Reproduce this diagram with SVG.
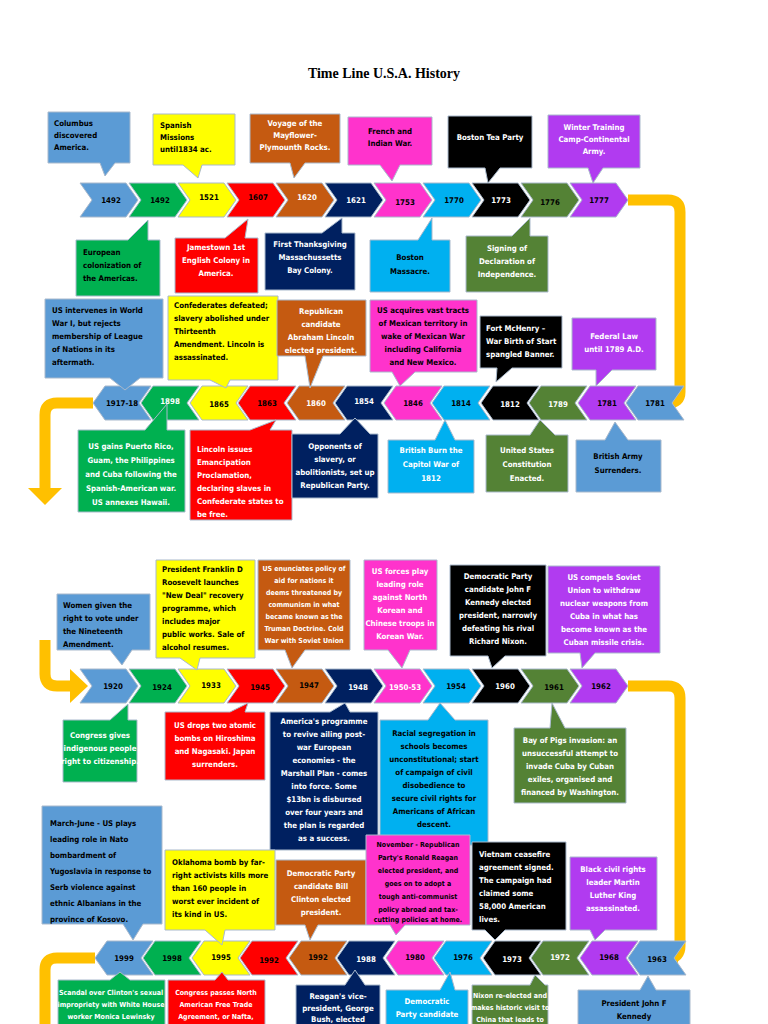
<svg xmlns="http://www.w3.org/2000/svg" width="768" height="1024" viewBox="0 0 768 1024">
<style>
text{font-family:"DejaVu Sans Condensed","Liberation Sans",sans-serif;font-size:7.8px;font-weight:bold;text-anchor:middle}
.t{font-family:"Liberation Serif",serif;font-size:14px}
.s{font-size:7px}
.w{fill:#fff}.k{fill:#000}.l{text-anchor:start}
.bl{fill:#5B9BD5}.gr{fill:#00B050}.ye{fill:#FFFF00}.re{fill:#FF0000}.br{fill:#C55A11}.nv{fill:#002060}.pk{fill:#FF33CC}.cy{fill:#00B0F0}.bk{fill:#000}.ol{fill:#548235}.pu{fill:#B13BF0}
.c{stroke:#A9B9CC;stroke-width:1}
.ar{fill:none;stroke:#FFC000;stroke-width:11}
</style>
<rect width="768" height="1024" fill="#fff"/>
<text class="t" x="384" y="78">Time Line U.S.A. History</text>
<g id="connectors">
<path class="ar" d="M628,200 H668 Q680,200 680,212 V392 Q680,403 668,403 H660"/><polygon fill="#FFC000" points="645,403 662,386 662,420"/>
<path class="ar" d="M93,403 H57 Q45,403 45,415 V490"/><polygon fill="#FFC000" points="28,488 62,488 45,505"/>
<path class="ar" d="M45,640 V674 Q45,686 57,686 H72"/><polygon fill="#FFC000" points="88,686 70,669 70,703"/>
<path class="ar" d="M628,686 H668 Q680,686 680,698 V946 Q680,958 668,958 H675"/><polygon fill="#FFC000" points="660,958 678,941 678,975"/>
<path class="ar" d="M95,958 H57 Q45,958 45,970 V1024"/>
</g>
<g id="r1">
<g id="n1492a"><path class="bl c" d="M80,183H126L138,200L126,217H80L92,200Z"/><text x="111" y="203">1492</text></g>
<g id="n1492b"><path class="gr c" d="M129,183H175L187,200L175,217H129L141,200Z"/><text x="160" y="203">1492</text></g>
<g id="n1521"><path class="ye c" d="M178,183H224L236,200L224,217H178L190,200Z"/><text x="209" y="200">1521</text></g>
<g id="n1607"><path class="re c" d="M227,183H273L285,200L273,217H227L239,200Z"/><text x="258" y="200">1607</text></g>
<g id="n1620"><path class="br c" d="M276,183H322L334,200L322,217H276L288,200Z"/><text class="w" x="307" y="200">1620</text></g>
<g id="n1621"><path class="nv c" d="M325,183H371L383,200L371,217H325L337,200Z"/><text class="w" x="356" y="203">1621</text></g>
<g id="n1753"><path class="pk c" d="M374,183H420L432,200L420,217H374L386,200Z"/><text x="405" y="205">1753</text></g>
<g id="n1770"><path class="cy c" d="M423,183H469L481,200L469,217H423L435,200Z"/><text x="454" y="203">1770</text></g>
<g id="n1773"><path class="bk c" d="M472,183H518L530,200L518,217H472L484,200Z"/><text class="w" x="501" y="203">1773</text></g>
<g id="n1776"><path class="ol c" d="M521,183H567L579,200L567,217H521L533,200Z"/><text x="550" y="205">1776</text></g>
<g id="n1777"><path class="pu c" d="M570,183H616L628,200L616,217H570L582,200Z"/><text x="599" y="203">1777</text></g>
</g>
<g id="c-columbus"><path class="bl c" d="M48,112H130V163H115L105,176L100,163H48Z"/><text class="l" x="54" y="126">Columbus</text><text class="l" x="54" y="138">discovered</text><text class="l" x="54" y="150">America.</text></g>
<g id="c-spanish"><path class="ye c" d="M153,114H235V165H202L198,178L183,165H153Z"/><text class="l k" x="160" y="128">Spanish</text><text class="l" x="160" y="140">Missions</text><text class="l" x="160" y="152">until1834 ac.</text></g>
<g id="c-voyage"><path class="br c" d="M250,114H340V163H305L294,178L290,163H250Z"/><text class="w" x="295" y="126">Voyage of the</text><text class="w" x="295" y="138">Mayflower-</text><text class="w" x="295" y="150">Plymounth Rocks.</text></g>
<g id="c-french"><path class="pk c" d="M348,117H432V165H400L392,181L380,165H348Z"/><text x="390" y="134">French and</text><text x="390" y="146">Indian War.</text></g>
<g id="c-tea"><path class="bk c" d="M448,116H532V168H500L488,183L485,168H448Z"/><text class="w" x="490" y="140">Boston Tea Party</text></g>
<g id="c-winter"><path class="pu c" d="M548,115H640V168H603L593,183L588,168H548Z"/><text class="w" x="594" y="130">Winter Training</text><text class="w" x="594" y="142">Camp-Continental</text><text class="w" x="594" y="154">Army.</text></g>
<g id="c-european"><path class="gr c" d="M76,240H128L148,220L148,240H160V296H76Z"/><text class="l" x="83" y="255">European</text><text class="l" x="83" y="268">colonization of</text><text class="l" x="83" y="281">the Americas.</text></g>
<g id="c-jamestown"><path class="re c" d="M175,238H225L248,219L245,238H258V293H175Z"/><text class="w" x="216" y="250">Jamestown 1st</text><text class="w" x="216" y="263">English Colony in</text><text class="w" x="216" y="276">America.</text></g>
<g id="c-thanks"><path class="nv c" d="M265,233H322L342,218L342,233H355V290H265Z"/><text class="w" x="310" y="247">First Thanksgiving</text><text class="w" x="310" y="260">Massachussetts</text><text class="w" x="310" y="273">Bay Colony.</text></g>
<g id="c-massacre"><path class="cy c" d="M370,240H418L432,218L432,240H450V292H370Z"/><text x="410" y="260">Boston</text><text x="410" y="274">Massacre.</text></g>
<g id="c-signing"><path class="ol c" d="M466,236H512L530,218L530,236H548V292H466Z"/><text class="w" x="507" y="251">Signing of</text><text class="w" x="507" y="264">Declaration of</text><text class="w" x="507" y="277">Independence.</text></g>
<g id="r2">
<g id="n191718"><path class="bl c" d="M93,403L105,386H151L139,403L151,420H105Z"/><text x="122" y="406">1917-18</text></g>
<g id="n1898"><path class="gr c" d="M141,403L153,386H199L187,403L199,420H153Z"/><text class="w" x="170" y="404">1898</text></g>
<g id="n1865"><path class="ye c" d="M190,403L202,386H248L236,403L248,420H202Z"/><text x="219" y="407">1865</text></g>
<g id="n1863"><path class="re c" d="M238,403L250,386H296L284,403L296,420H250Z"/><text x="267" y="406">1863</text></g>
<g id="n1860"><path class="br c" d="M287,403L299,386H345L333,403L345,420H299Z"/><text class="w" x="316" y="406">1860</text></g>
<g id="n1854"><path class="nv c" d="M335,403L347,386H393L381,403L393,420H347Z"/><text class="w" x="364" y="404">1854</text></g>
<g id="n1846"><path class="pk c" d="M384,403L396,386H442L430,403L442,420H396Z"/><text x="413" y="406">1846</text></g>
<g id="n1814"><path class="cy c" d="M432,403L444,386H490L478,403L490,420H444Z"/><text x="461" y="406">1814</text></g>
<g id="n1812"><path class="bk c" d="M481,403L493,386H539L527,403L539,420H493Z"/><text class="w" x="510" y="407">1812</text></g>
<g id="n1789"><path class="ol c" d="M529,403L541,386H587L575,403L587,420H541Z"/><text class="w" x="558" y="407">1789</text></g>
<g id="n1781a"><path class="pu c" d="M578,403L590,386H636L624,403L636,420H590Z"/><text x="607" y="406">1781</text></g>
<g id="n1781b"><path class="bl c" d="M626,403L638,386H684L672,403L684,420H638Z"/><text x="655" y="406">1781</text></g>
</g>
<g id="c-ww1"><path class="bl c" d="M45,299H163V378H140L125,390L110,378H45Z"/><text class="l" x="52" y="313">US intervenes in World</text><text class="l" x="52" y="326">War I, but rejects</text><text class="l" x="52" y="339">membership of League</text><text class="l" x="52" y="352">of Nations in its</text><text class="l" x="52" y="365">aftermath.</text></g>
<g id="c-confed"><path class="ye c" d="M168,296H278V380H230L226,388L210,380H168Z"/><text class="l" x="174" y="308">Confederates defeated;</text><text class="l" x="174" y="321">slavery abolished under</text><text class="l" x="174" y="334">Thirteenth</text><text class="l" x="174" y="347">Amendment. Lincoln is</text><text class="l" x="174" y="360">assassinated.</text></g>
<g id="c-repub"><path class="br c" d="M277,300H366V356H323L310,388L305,356H277Z"/><text class="w" x="321" y="314">Republican</text><text class="w" x="321" y="327">candidate</text><text class="w" x="321" y="340">Abraham Lincoln</text><text class="w" x="321" y="353">elected president.</text></g>
<g id="c-mexico"><path class="pk c" d="M370,300H477V372H415L400,386L392,372H370Z"/><text x="423" y="313">US acquires vast tracts</text><text x="423" y="326">of Mexican territory in</text><text x="423" y="339">wake of Mexican War</text><text x="423" y="352">including California</text><text x="423" y="365">and New Mexico.</text></g>
<g id="c-mchenry"><path class="bk c" d="M480,316H562V368H512L496,382L497,368H480Z"/><text class="w l" x="486" y="331">Fort McHenry –</text><text class="w l" x="486" y="344">War Birth of Start</text><text class="w l" x="486" y="357">spangled Banner.</text></g>
<g id="c-federal"><path class="pu c" d="M572,318H656V370H612L596,386L596,370H572Z"/><text class="w" x="614" y="339">Federal Law</text><text class="w" x="614" y="352">until 1789 A.D.</text></g>
<g id="c-gains"><path class="gr c" d="M78,430H145L167,404L167,430H185V512H78Z"/><text class="w" x="131" y="449">US gains Puerto Rico,</text><text class="w" x="131" y="463">Guam, the Philippines</text><text class="w" x="131" y="477">and Cuba following the</text><text class="w" x="131" y="491">Spanish-American war.</text><text class="w" x="131" y="505">US annexes Hawaii.</text></g>
<g id="c-emanc"><path class="re c" d="M190,430H250L276,420L270,430H292V520H190Z"/><text class="w l" x="197" y="452">Lincoln issues</text><text class="w l" x="197" y="465">Emancipation</text><text class="w l" x="197" y="478">Proclamation,</text><text class="w l" x="197" y="491">declaring slaves in</text><text class="w l" x="197" y="504">Confederate states to</text><text class="w l" x="197" y="517">be free.</text></g>
<g id="c-opp"><path class="nv c" d="M292,434H340L355,418L370,434H378V498H292Z"/><text class="w" x="335" y="449">Opponents of</text><text class="w" x="335" y="462">slavery, or</text><text class="w" x="335" y="475">abolitionists, set up</text><text class="w" x="335" y="488">Republican Party.</text></g>
<g id="c-burn"><path class="cy c" d="M388,440H435L445,420L455,440H474V493H388Z"/><text class="w" x="431" y="453">British Burn the</text><text class="w" x="431" y="467">Capitol War of</text><text class="w" x="431" y="481">1812</text></g>
<g id="c-const"><path class="ol c" d="M486,435H530L540,420L555,435H568V492H486Z"/><text class="w" x="527" y="453">United States</text><text class="w" x="527" y="467">Constitution</text><text class="w" x="527" y="481">Enacted.</text></g>
<g id="c-army"><path class="bl c" d="M576,440H605L615,422L628,440H661V492H576Z"/><text x="618" y="459">British Army</text><text x="618" y="473">Surrenders.</text></g>
<g id="r3">
<g id="n1920"><path class="bl c" d="M80,669H126L138,686L126,703H80L92,686Z"/><text x="113" y="689">1920</text></g>
<g id="n1924"><path class="gr c" d="M129,669H175L187,686L175,703H129L141,686Z"/><text x="162" y="690">1924</text></g>
<g id="n1933"><path class="ye c" d="M178,669H224L236,686L224,703H178L190,686Z"/><text x="211" y="688">1933</text></g>
<g id="n1945"><path class="re c" d="M227,669H273L285,686L273,703H227L239,686Z"/><text x="260" y="690">1945</text></g>
<g id="n1947"><path class="br c" d="M276,669H322L334,686L322,703H276L288,686Z"/><text x="309" y="688">1947</text></g>
<g id="n1948"><path class="nv c" d="M325,669H371L383,686L371,703H325L337,686Z"/><text class="w" x="358" y="690">1948</text></g>
<g id="n1950"><path class="pk c" d="M374,669H420L432,686L420,703H374L386,686Z"/><text class="w" x="405" y="690">1950-53</text></g>
<g id="n1954"><path class="cy c" d="M423,669H469L481,686L469,703H423L435,686Z"/><text x="456" y="689">1954</text></g>
<g id="n1960"><path class="bk c" d="M472,669H518L530,686L518,703H472L484,686Z"/><text class="w" x="505" y="689">1960</text></g>
<g id="n1961"><path class="ol c" d="M521,669H567L579,686L567,703H521L533,686Z"/><text x="554" y="690">1961</text></g>
<g id="n1962"><path class="pu c" d="M570,669H616L628,686L616,703H570L582,686Z"/><text x="601" y="689">1962</text></g>
</g>
<g id="c-women"><path class="bl c" d="M57,594H150V650H132L122,665L110,650H57Z"/><text class="l" x="63" y="608">Women given the</text><text class="l" x="63" y="621">right to vote under</text><text class="l" x="63" y="634">the Nineteenth</text><text class="l" x="63" y="647">Amendment.</text></g>
<g id="c-fdr"><path class="ye c" d="M156,560H255V658H200L197,670L180,658H156Z"/><text class="l" x="162" y="572">President Franklin D</text><text class="l" x="162" y="585">Roosevelt launches</text><text class="l" x="162" y="598">"New Deal" recovery</text><text class="l" x="162" y="611">programme, which</text><text class="l" x="162" y="624">includes major</text><text class="l" x="162" y="637">public works. Sale of</text><text class="l" x="162" y="650">alcohol resumes.</text></g>
<g id="c-truman"><path class="br c" d="M258,560H350V650H305L292,668L285,650H258Z"/><text class="w s" x="304" y="571">US enunciates policy of</text><text class="w s" x="304" y="583">aid for nations it</text><text class="w s" x="304" y="595">deems threatened by</text><text class="w s" x="304" y="607">communism in what</text><text class="w s" x="304" y="619">became known as the</text><text class="w s" x="304" y="631">Truman Doctrine. Cold</text><text class="w s" x="304" y="643">War with Soviet Union</text></g>
<g id="c-korea"><path class="pk c" d="M364,560H437V650H410L402,668L388,650H364Z"/><text class="w" x="400" y="574">US forces play</text><text class="w" x="400" y="587">leading role</text><text class="w" x="400" y="600">against North</text><text class="w" x="400" y="613">Korean and</text><text class="w" x="400" y="626">Chinese troops in</text><text class="w" x="400" y="639">Korean War.</text></g>
<g id="c-jfk"><path class="bk c" d="M450,565H546V656H505L492,668L488,656H450Z"/><text class="w" x="498" y="579">Democratic Party</text><text class="w" x="498" y="592">candidate John F</text><text class="w" x="498" y="605">Kennedy elected</text><text class="w" x="498" y="618">president, narrowly</text><text class="w" x="498" y="631">defeating his rival</text><text class="w" x="498" y="644">Richard Nixon.</text></g>
<g id="c-cuba"><path class="pu c" d="M548,566H660V653H595L582,668L580,653H548Z"/><text class="w" x="604" y="580">US compels Soviet</text><text class="w" x="604" y="593">Union to withdraw</text><text class="w" x="604" y="606">nuclear weapons from</text><text class="w" x="604" y="619">Cuba in what has</text><text class="w" x="604" y="632">become known as the</text><text class="w" x="604" y="645">Cuban missile crisis.</text></g>
<g id="c-congress"><path class="gr c" d="M63,720H110L128,704L128,720H137V782H63Z"/><text class="w" x="100" y="738">Congress gives</text><text class="w" x="100" y="751">indigenous people</text><text class="w" x="100" y="764">right to citizenship.</text></g>
<g id="c-atomic"><path class="re c" d="M165,712H230L248,703L245,712H265V780H165Z"/><text class="w" x="215" y="728">US drops two atomic</text><text class="w" x="215" y="741">bombs on Hiroshima</text><text class="w" x="215" y="754">and Nagasaki. Japan</text><text class="w" x="215" y="767">surrenders.</text></g>
<g id="c-marshall"><path class="nv c" d="M270,712H330L345,703L350,712H378V850H270Z"/><text class="w" x="324" y="724">America's programme</text><text class="w" x="324" y="737">to revive ailing post-</text><text class="w" x="324" y="750">war European</text><text class="w" x="324" y="763">economies - the</text><text class="w" x="324" y="776">Marshall Plan - comes</text><text class="w" x="324" y="789">into force. Some</text><text class="w" x="324" y="802">$13bn is disbursed</text><text class="w" x="324" y="815">over four years and</text><text class="w" x="324" y="828">the plan is regarded</text><text class="w" x="324" y="841">as a success.</text></g>
<g id="c-racial"><path class="cy c" d="M380,720H428L440,703L455,720H488V845H380Z"/><text x="434" y="736">Racial segregation in</text><text x="434" y="749">schools becomes</text><text x="434" y="762">unconstitutional; start</text><text x="434" y="775">of campaign of civil</text><text x="434" y="788">disobedience to</text><text x="434" y="801">secure civil rights for</text><text x="434" y="814">Americans of African</text><text x="434" y="827">descent.</text></g>
<g id="c-pigs"><path class="ol c" d="M514,728H550L552,703L565,728H626V803H514Z"/><text class="w" x="570" y="743">Bay of Pigs invasion: an</text><text class="w" x="570" y="756">unsuccessful attempt to</text><text class="w" x="570" y="769">invade Cuba by Cuban</text><text class="w" x="570" y="782">exiles, organised and</text><text class="w" x="570" y="795">financed by Washington.</text></g>
<g id="r4">
<g id="n1999"><path class="bl c" d="M95,958L107,941H153L141,958L153,975H107Z"/><text x="124" y="961">1999</text></g>
<g id="n1998"><path class="gr c" d="M143,958L155,941H201L189,958L201,975H155Z"/><text x="172" y="961">1998</text></g>
<g id="n1995"><path class="ye c" d="M192,958L204,941H250L238,958L250,975H204Z"/><text x="221" y="960">1995</text></g>
<g id="n1992a"><path class="re c" d="M240,958L252,941H298L286,958L298,975H252Z"/><text x="269" y="963">1992</text></g>
<g id="n1992b"><path class="br c" d="M289,958L301,941H347L335,958L347,975H301Z"/><text x="318" y="960">1992</text></g>
<g id="n1988"><path class="nv c" d="M337,958L349,941H395L383,958L395,975H349Z"/><text class="w" x="366" y="962">1988</text></g>
<g id="n1980"><path class="pk c" d="M386,958L398,941H444L432,958L444,975H398Z"/><text x="415" y="960">1980</text></g>
<g id="n1976"><path class="cy c" d="M434,958L446,941H492L480,958L492,975H446Z"/><text x="463" y="960">1976</text></g>
<g id="n1973"><path class="bk c" d="M483,958L495,941H541L529,958L541,975H495Z"/><text class="w" x="512" y="962">1973</text></g>
<g id="n1972"><path class="ol c" d="M531,958L543,941H589L577,958L589,975H543Z"/><text class="w" x="560" y="960">1972</text></g>
<g id="n1968"><path class="pu c" d="M580,958L592,941H638L626,958L638,975H592Z"/><text x="609" y="960">1968</text></g>
<g id="n1963"><path class="bl c" d="M628,958L640,941H686L674,958L686,975H640Z"/><text x="657" y="962">1963</text></g>
</g>
<g id="c-kosovo"><path class="bl c" d="M42,806H162V924H143L133,940L123,924H42Z"/><text class="l" x="50" y="826">March-June - US plays</text><text class="l" x="50" y="842">leading role in Nato</text><text class="l" x="50" y="858">bombardment of</text><text class="l" x="50" y="874">Yugoslavia in response to</text><text class="l" x="50" y="890">Serb violence against</text><text class="l" x="50" y="906">ethnic Albanians in the</text><text class="l" x="50" y="922">province of Kosovo.</text></g>
<g id="c-oklahoma"><path class="ye c" d="M165,850H275V930H225L222,945L205,930H165Z"/><text class="l" x="172" y="865">Oklahoma bomb by far-</text><text class="l" x="172" y="878">right activists kills more</text><text class="l" x="172" y="891">than 160 people in</text><text class="l" x="172" y="904">worst ever incident of</text><text class="l" x="172" y="917">its kind in US.</text></g>
<g id="c-clinton"><path class="br c" d="M276,860H366V925H318L310,940L305,925H276Z"/><text class="w" x="321" y="876">Democratic Party</text><text class="w" x="321" y="889">candidate Bill</text><text class="w" x="321" y="902">Clinton elected</text><text class="w" x="321" y="915">president.</text></g>
<g id="c-reagan80"><path class="pk c" d="M366,835H470V925H405L396,935L390,925H366Z"/><text class="s" x="418" y="847">November - Republican</text><text class="s" x="418" y="860">Party's Ronald Reagan</text><text class="s" x="418" y="873">elected president, and</text><text class="s" x="418" y="886">goes on to adopt a</text><text class="s" x="418" y="899">tough anti-communist</text><text class="s" x="418" y="912">policy abroad and tax-</text><text class="s" x="418" y="922">cutting policies at home.</text></g>
<g id="c-vietnam"><path class="bk c" d="M472,842H566V930H505L495,940L485,930H472Z"/><text class="w l" x="479" y="857">Vietnam ceasefire</text><text class="w l" x="479" y="870">agreement signed.</text><text class="w l" x="479" y="883">The campaign had</text><text class="w l" x="479" y="896">claimed some</text><text class="w l" x="479" y="909">58,000 American</text><text class="w l" x="479" y="922">lives.</text></g>
<g id="c-mlk"><path class="pu c" d="M570,857H657V930H605L595,940L590,930H570Z"/><text class="w" x="613" y="872">Black civil rights</text><text class="w" x="613" y="885">leader Martin</text><text class="w" x="613" y="898">Luther King</text><text class="w" x="613" y="911">assassinated.</text></g>
<g id="c-scandal"><path class="gr c" d="M58,980H110L120,972L130,980H165V1030H58Z"/><text class="w s" x="111" y="995">Scandal over Clinton's sexual</text><text class="w s" x="111" y="1007">impropriety with White House</text><text class="w s" x="111" y="1019">worker Monica Lewinsky</text></g>
<g id="c-nafta"><path class="re c" d="M168,980H215L222,972L228,980H265V1030H168Z"/><text class="w s" x="216" y="995">Congress passes North</text><text class="w s" x="216" y="1007">American Free Trade</text><text class="w s" x="216" y="1019">Agreement, or Nafta,</text></g>
<g id="c-bush"><path class="nv c" d="M296,985H345L355,970L365,985H380V1030H296Z"/><text class="w" x="338" y="999">Reagan's vice-</text><text class="w" x="338" y="1011">president, George</text><text class="w" x="338" y="1022">Bush, elected</text></g>
<g id="c-carter"><path class="cy c" d="M386,990H440L450,972L455,990H468V1030H386Z"/><text class="w" x="427" y="1004">Democratic</text><text class="w" x="427" y="1017">Party candidate</text></g>
<g id="c-nixon"><path class="ol c" d="M472,985H530L535,975L545,985H548V1030H472Z"/><text class="w s" x="510" y="998">Nixon re-elected and</text><text class="w s" x="510" y="1010">makes historic visit to</text><text class="w s" x="510" y="1022">China that leads to</text></g>
<g id="c-jfk63"><path class="bl c" d="M578,990H640L648,976L656,990H690V1030H578Z"/><text x="634" y="1006">President John F</text><text x="634" y="1019">Kennedy</text></g>
</svg>
